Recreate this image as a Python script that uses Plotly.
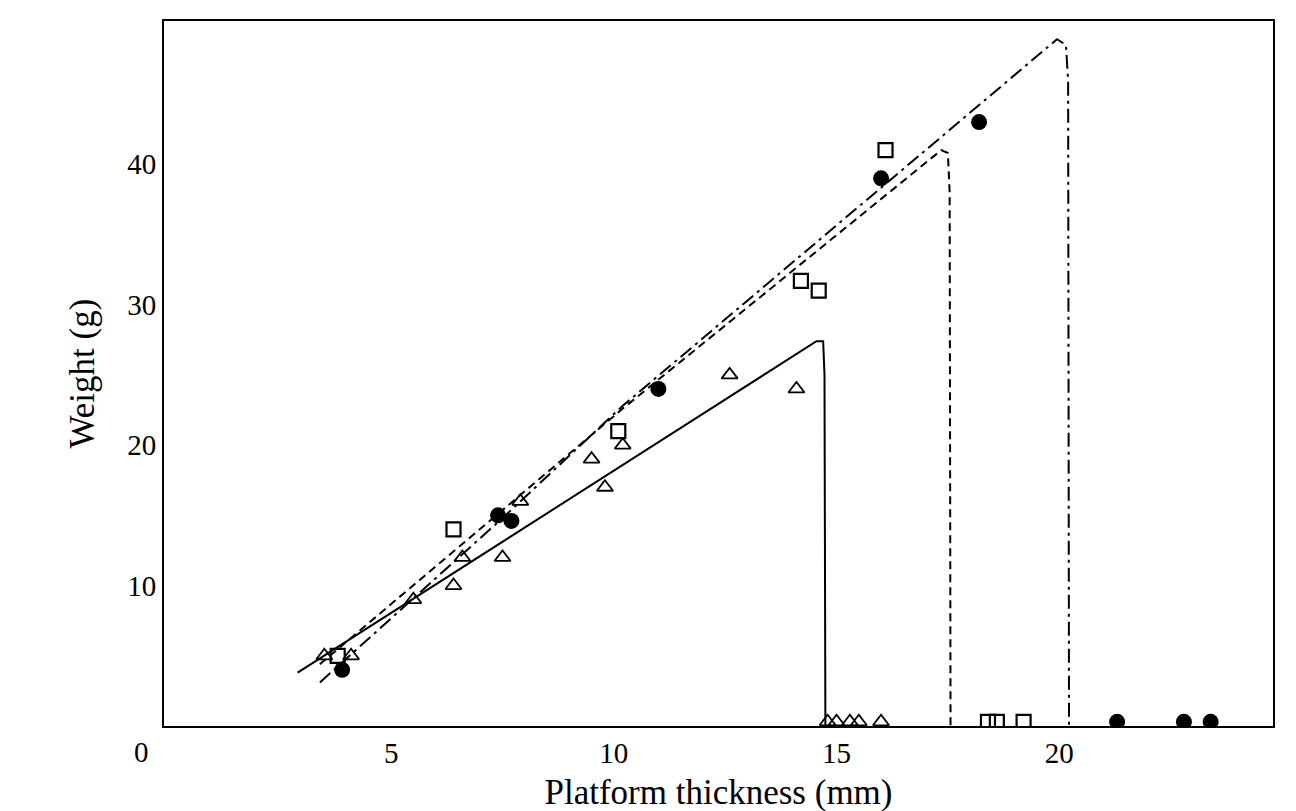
import plotly.graph_objects as go

# triangles / solid line
tri_x = [3.5, 4.1, 5.5, 6.4, 6.6, 7.5, 7.9, 9.5, 9.8, 10.2, 12.6, 14.1, 14.8, 15.0, 15.3, 15.5, 16.0]
tri_y = [5, 5, 9, 10, 12, 12, 16, 19, 17, 20, 25, 24, 0.3, 0.3, 0.3, 0.3, 0.3]
# squares / dashed line
sq_x = [3.8, 6.4, 10.1, 14.2, 14.6, 16.1, 18.4, 18.6, 19.2]
sq_y = [5, 14, 21, 31.7, 31, 41, 0.3, 0.3, 0.3]
# circles / dash-dot line
ci_x = [3.9, 7.4, 7.7, 11.0, 16.0, 18.2, 21.3, 22.8, 23.4]
ci_y = [4, 15, 14.6, 24, 39, 43, 0.3, 0.3, 0.3]

solid_x = [2.9, 14.55, 14.7, 14.73, 14.75]
solid_y = [3.8, 27.4, 27.4, 25, 0]
dash_x = [3.4, 10.2, 17.35, 17.5, 17.54, 17.56]
dash_y = [4.4, 22.6, 41, 40.8, 38, 0]
dd_x = [3.4, 7.5, 10.2, 19.95, 20.15, 20.2, 20.22]
dd_y = [3.1, 14.8, 22.8, 48.9, 48.5, 46, 0]

fig = go.Figure()
fig.add_trace(go.Scatter(x=solid_x, y=solid_y, mode='lines', line=dict(color='black', width=2)))
fig.add_trace(go.Scatter(x=dash_x, y=dash_y, mode='lines', line=dict(color='black', width=2, dash='8px,5px')))
fig.add_trace(go.Scatter(x=dd_x, y=dd_y, mode='lines', line=dict(color='black', width=2, dash='14px,5px,3px,5px')))
fig.add_trace(go.Scatter(x=tri_x, y=tri_y, mode='markers',
                         marker=dict(symbol='triangle-up-open', size=14, color='black', line=dict(width=1.8))))
fig.add_trace(go.Scatter(x=sq_x, y=sq_y, mode='markers',
                         marker=dict(symbol='square-open', size=14, color='black', line=dict(width=2.2))))
fig.add_trace(go.Scatter(x=ci_x, y=ci_y, mode='markers',
                         marker=dict(symbol='circle', size=16, color='black')))

font = dict(family='Liberation Serif', size=29, color='black')
fig.update_layout(
    width=1296, height=811, showlegend=False,
    plot_bgcolor='white', paper_bgcolor='white',
    margin=dict(l=156, r=31, t=11, b=93),
    font=font,
    xaxis=dict(range=[-0.1, 24.8], tickvals=[5, 10, 15, 20], showline=True, mirror=True,
               linecolor='black', linewidth=2, showgrid=False, zeroline=False, ticks='',
               title=dict(text='Platform thickness (mm)', standoff=12)),
    yaxis=dict(range=[0, 50.2], tickvals=[10, 20, 30, 40], showline=True, mirror=True,
               linecolor='black', linewidth=2, showgrid=False, zeroline=False, ticks='',
               title=dict(text='Weight (g)', standoff=22)),
)
fig.add_annotation(text='0', x=-0.02, y=0, xref='paper', yref='paper', xanchor='center', yanchor='top',
                   showarrow=False, yshift=-8, font=font)
fig.write_html("out.html")
